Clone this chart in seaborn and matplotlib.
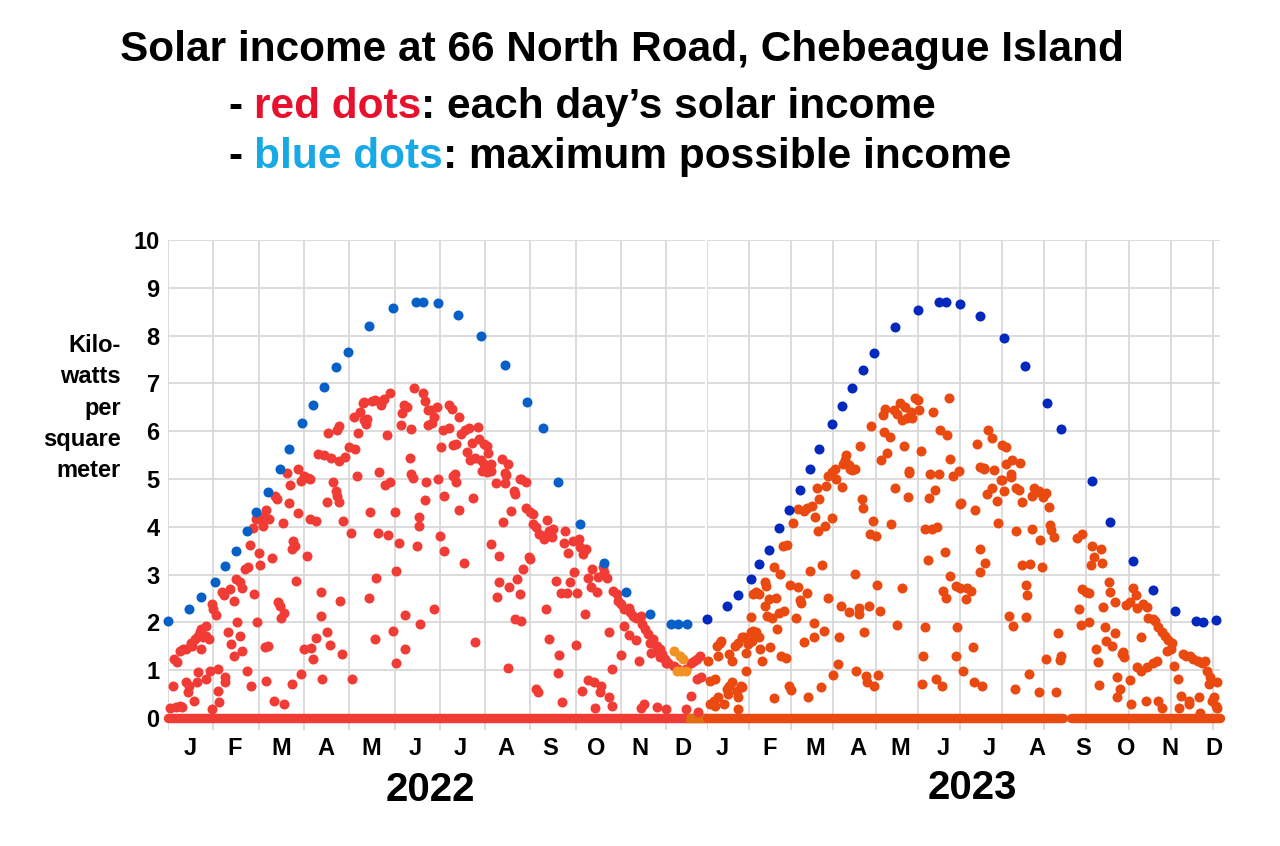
import numpy as np
import pandas as pd
import matplotlib
matplotlib.use("Agg")
import matplotlib.pyplot as plt
import seaborn as sns

sns.set_style("white")
plt.rcParams['font.family'] = ['Liberation Sans', 'DejaVu Sans']
plt.rcParams['text.color'] = 'black'
plt.rcParams['xtick.color'] = 'black'
plt.rcParams['ytick.color'] = 'black'
plt.rcParams['axes.labelcolor'] = 'black'

# ---------------- data ----------------
months = ["J", "F", "M", "A", "M", "J", "J", "A", "S", "O", "N", "D"]
years = ["2022", "2023"]

# maximum possible income (blue dots), day of year / kWh per m2
blue22_day = [0, 14, 22, 31, 38, 45, 52, 58, 66, 74, 80, 89, 96, 103, 111, 119, 133, 149,
              164, 169, 179, 192, 207, 223, 238, 248, 258, 273, 289, 303, 319, 333, 338, 344]
blue22_val = [2.03, 2.28, 2.53, 2.85, 3.18, 3.49, 3.91, 4.31, 4.73, 5.21, 5.63, 6.17, 6.55, 6.92,
              7.34, 7.66, 8.20, 8.58, 8.70, 8.71, 8.68, 8.43, 7.99, 7.38, 6.61, 6.07, 4.93, 4.06,
              3.24, 2.64, 2.18, 1.97, 1.97, 1.97]
blue23_day = [0, 14, 22, 31, 37, 44, 51, 58, 66, 73, 80, 89, 96, 103, 111, 119, 134, 150, 165,
              170, 180, 194, 211, 226, 242, 252, 274, 287, 303, 317, 333, 348, 353, 362]
blue23_val = [2.07, 2.35, 2.58, 2.91, 3.23, 3.51, 3.97, 4.35, 4.77, 5.22, 5.63, 6.15, 6.53, 6.90,
              7.29, 7.64, 8.17, 8.54, 8.70, 8.70, 8.66, 8.41, 7.95, 7.36, 6.59, 6.05, 4.96, 4.11,
              3.28, 2.68, 2.23, 2.02, 2.01, 2.06]

# each day's solar income (red dots), 2022
red22_day = [3, 1, 5, 8, 9, 4, 6, 8, 10, 12, 12, 14, 13, 17, 15, 16, 18, 20, 21, 22, 25, 22, 23, 25,
             27, 20, 19, 25, 28, 29, 34, 33, 33, 29, 30, 32, 36, 37, 41, 44, 38, 38, 40, 42, 44, 46,
             45, 48, 49, 48, 49, 52, 55, 51, 53, 54, 57, 59, 56, 58, 60, 62, 63, 60, 61, 64, 66, 65,
             65, 67, 69, 70, 77, 71, 72, 74, 73, 75, 77, 76, 80, 81, 83, 84, 82, 85, 82, 86, 88, 90,
             93, 94, 88, 90, 92, 94, 98, 95, 96, 98, 102, 101, 101, 105, 107, 105, 109, 111, 112, 113,
             114, 116, 115, 121, 122, 125, 133, 137, 138, 134, 139, 140, 144, 147, 146, 149, 151, 151,
             150, 153, 157, 157, 161, 162, 165, 166, 166, 167, 170, 171,
             79, 86, 99, 103, 108, 113, 117, 120, 124, 106, 112, 113, 123, 126, 127, 129, 130, 130,
             132, 131, 135, 137, 141, 143, 141, 147, 145, 154, 155, 156, 158, 161, 160, 163, 169, 170,
             172, 172,
             174, 176, 175, 178, 186, 188, 193, 182, 186, 181, 189, 191, 194, 197, 199, 205, 201, 206,
             209, 198, 200, 203, 207, 209, 211, 213, 214, 212, 211, 221, 225, 224, 234, 189,
             179, 183, 191, 193, 202, 190, 208, 211, 214, 223, 217, 223, 229, 230, 233, 237, 180, 183,
             196, 176, 203, 214, 219, 222, 227, 219, 218, 226, 231, 233, 235, 239, 240, 230, 234, 225,
             237, 240, 242, 242, 244, 246, 248, 249, 252, 254, 255, 251, 263, 262, 265, 268, 272, 273,
             275, 277, 257, 260, 264, 271, 266, 269, 278, 281, 280, 284, 285, 288, 289, 291, 250, 252,
             259, 258, 276, 270, 244, 245, 261, 274, 278, 282, 286, 287, 283, 292, 294, 294, 292, 300,
             302, 295, 297, 298, 300, 302, 305, 306, 308, 310, 313, 305, 310, 312, 314, 316, 318, 319,
             321, 324, 326, 327, 329, 331, 335, 338, 320, 323, 326, 330, 313, 315, 324, 330, 343, 346,
             348, 350, 352, 350, 353, 346, 343, 351]
red22_val = [0.68, 0.22, 0.24, 0.26, 0.24, 1.23, 1.18, 1.41, 1.44, 1.44, 0.75, 0.68, 0.55, 0.35, 1.58,
             1.51, 1.65, 1.72, 1.79, 1.86, 1.93, 1.44, 1.69, 1.72, 1.65, 0.97, 0.75, 0.82, 0.99, 0.19,
             0.33, 0.57, 1.02, 2.38, 2.28, 2.15, 2.63, 2.57, 2.70, 2.45, 0.75, 0.85, 1.79, 1.55, 1.29,
             2.01, 2.91, 2.84, 2.73, 1.72, 1.41, 0.99, 0.68, 3.11, 3.17, 3.62, 2.59, 2.00, 3.97, 4.16,
             4.17, 4.20, 4.02, 3.46, 3.20, 1.48, 1.51, 0.78, 4.36, 4.16, 3.34, 0.36, 0.29, 4.65, 4.59,
             2.35, 2.43, 2.10, 2.20, 4.09, 4.49, 4.87, 3.71, 3.60, 3.53, 2.87, 0.71, 4.28, 4.96, 5.07,
             5.03, 5.00, 0.92, 1.44, 3.38, 4.16, 4.13, 1.46, 1.23, 1.67, 0.82, 2.63, 2.14, 1.79, 1.53,
             4.51, 4.94, 4.75, 4.65, 4.51, 2.45, 4.13, 1.34, 3.88, 0.82, 5.07, 2.52, 1.65, 2.94, 4.30,
             3.88, 5.15, 4.87, 4.93, 3.83, 1.83, 1.16, 3.08, 4.30, 3.67, 1.44, 2.15, 5.10, 5.03, 3.60,
             4.20, 4.02, 1.97, 4.56, 4.93,
             5.13, 5.20, 5.52, 5.50, 5.44, 5.38, 5.46, 5.67, 5.62, 5.97, 6.02, 6.10, 6.29, 5.97, 6.40,
             6.58, 6.61, 6.23, 6.26, 6.16, 6.63, 6.66, 6.58, 6.68, 6.54, 6.79, 5.92, 6.13, 6.38, 6.54,
             6.51, 6.04, 5.43, 6.91, 6.80, 6.63, 6.44, 6.13,
             6.44, 6.30, 6.17, 6.51, 6.54, 6.47, 6.29, 6.02, 6.06, 5.67, 5.71, 5.74, 5.94, 6.02, 6.06,
             6.08, 5.76, 5.83, 5.74, 5.57, 5.39, 5.43, 5.39, 5.32, 5.24, 5.22, 5.32, 5.55, 5.70, 5.41,
             5.32, 5.08, 5.01, 5.06,
             5.00, 4.65, 4.93, 4.36, 4.61, 5.10, 5.17, 5.14, 5.17, 5.12, 4.91, 4.91, 4.75, 4.68, 5.00,
             4.93, 3.81, 3.50, 3.25, 2.28, 1.60, 3.64, 3.39, 4.10, 4.33, 2.85, 2.54, 2.75, 2.91, 2.59,
             3.11, 3.36, 3.32, 2.08, 2.03, 1.04, 4.40, 4.30, 4.26, 4.06, 3.99, 3.85, 3.81, 3.74, 3.92,
             3.78, 3.95, 4.15, 3.92, 3.66, 3.46, 3.71, 3.74, 3.57, 3.43, 3.53, 2.87, 2.61, 2.61, 2.61,
             2.84, 3.05, 2.94, 3.11, 2.75, 2.63, 2.96, 3.15, 3.05, 2.92, 2.28, 1.65, 1.32, 0.95, 2.17,
             1.53, 0.61, 0.55, 0.34, 0.57, 0.80, 0.75, 0.55, 0.68, 0.22, 1.80, 1.02, 0.26, 0.43, 1.32,
             1.93, 2.66, 2.59, 2.45, 2.38, 2.28, 2.31, 2.21, 2.14, 2.10, 2.14, 1.74, 1.64, 1.20, 1.97,
             1.86, 1.76, 1.58, 1.65, 1.51, 1.44, 1.34, 1.23, 1.16, 1.09, 1.02, 1.37, 1.41, 1.27, 1.16,
             0.20, 0.29, 0.24, 0.19, 1.02, 1.16, 1.20, 1.23, 1.30, 0.82, 0.85, 0.47, 0.19, 0.12]

# overlapping December dots of the 2022 screenshot (orange)
ovl22_day = [335, 339, 341, 337, 340, 343]
ovl22_val = [1.41, 1.30, 1.23, 0.98, 0.98, 0.98]

# each day's solar income, 2023
red23_day = [2, 5, 6, 8, 12, 2, 6, 1, 8, 7, 9, 10, 14, 16, 15, 18, 21, 22, 24, 25, 16, 18, 20, 22,
             25, 26, 28, 29, 31, 32, 33, 35, 37, 28, 22, 31, 33, 35, 37, 41, 42, 41, 44, 43, 46, 39,
             38, 45, 48, 48, 52, 49, 51, 55, 50, 53, 56, 54, 57, 61, 58, 60, 59, 65, 63, 66, 67, 71,
             65, 69, 71, 75, 73, 69, 72, 77, 79, 76, 76, 78, 80, 85, 86, 89, 91, 82, 83, 84, 86, 89,
             92, 96, 94, 90, 93, 81, 95, 101, 105, 108, 108, 102, 105, 110, 111, 118, 116, 120, 115,
             121, 123, 112, 106, 113, 114, 119, 122, 131, 135, 134, 143, 144, 139, 155, 154, 153, 155,
             160, 164, 157, 159, 165, 158, 162, 163, 167, 168, 170, 169, 173, 177, 180, 185, 188, 184,
             175, 179, 181, 191, 178, 177, 182, 189, 190, 194, 194,
             98, 101, 103, 99, 97, 109, 117, 124, 128, 126, 130, 125, 127, 133, 137, 135, 139, 141,
             142, 145, 146, 148, 150, 151, 140, 144, 152, 161, 166, 171, 172, 173, 192, 194,
             200, 203, 210, 213, 197, 204, 213, 217, 223, 216, 209,
             180, 196, 198, 199, 203, 206, 210, 211, 216, 220, 222, 197, 207, 220, 224, 231, 231, 233,
             234, 236, 239, 241, 243, 237, 244, 245, 247, 224, 230, 238, 227, 228, 215, 218, 227, 229,
             219, 236, 248, 250, 241, 251, 252, 263, 267, 274, 280, 275, 273, 281, 267, 270, 272, 265,
             266, 272, 286, 287, 290, 282, 283, 284, 290, 288, 277, 278, 296, 295, 297, 292, 294, 292,
             279, 301, 302, 298, 301, 303, 305, 306, 310, 313, 314, 317, 319, 321, 324, 326, 328, 331,
             327, 330, 309, 306, 309, 313, 317, 320, 312, 321, 324, 332, 335, 337, 339, 341, 344, 346,
             349, 352, 354, 356, 357, 358, 359, 361, 363, 362, 363, 336, 343, 343, 350, 351]
red23_val = [0.29, 0.36, 0.26, 0.43, 0.29, 0.78, 0.82, 1.20, 1.30, 1.51, 1.58, 1.62, 0.61, 0.68, 0.50,
             0.75, 0.57, 0.43, 0.68, 0.64, 1.34, 1.20, 1.51, 1.58, 1.69, 1.69, 1.37, 1.55, 1.79, 1.62,
             1.83, 1.79, 1.69, 0.99, 0.19, 2.12, 2.59, 2.63, 2.59, 2.84, 2.77, 2.35, 2.49, 2.14, 2.10,
             1.20, 1.44, 1.49, 0.41, 3.15, 3.01, 2.51, 2.20, 2.23, 1.86, 1.30, 1.25, 3.60, 3.62, 4.07,
             0.68, 0.59, 2.79, 2.75, 2.10, 2.47, 2.40, 2.61, 4.37, 4.33, 4.39, 4.44, 3.08, 1.60, 0.43,
             4.20, 3.92, 1.98, 1.70, 4.81, 4.59, 4.86, 5.07, 5.14, 5.20, 3.21, 1.83, 4.02, 2.51, 4.18,
             5.01, 4.84, 1.69, 0.91, 1.14, 0.64, 2.35, 2.21, 3.01, 2.31, 2.17, 5.20, 5.20, 4.58, 4.40,
             4.13, 3.86, 3.81, 2.35, 2.79, 2.24, 1.79, 0.99, 0.89, 0.75, 0.68, 0.91, 4.06, 1.95, 4.82,
             4.63, 5.16, 2.73, 1.91, 1.30, 0.71, 3.95, 3.95, 3.99, 3.30, 5.10, 5.11, 4.61, 4.77, 0.82,
             0.66, 2.66, 2.51, 3.48, 2.98, 2.77, 2.72, 2.72, 2.66, 2.49, 5.07, 5.17, 4.49, 4.35, 1.91,
             1.30, 0.99, 1.48, 0.75, 3.53, 3.05,
             5.39, 5.29, 5.18, 5.50, 5.32, 5.69, 6.10, 5.39, 5.55, 5.99, 5.87, 6.33, 6.47, 6.44, 6.59,
             6.37, 6.24, 6.51, 6.27, 6.41, 6.27, 6.70, 6.65, 6.44, 5.69, 5.13, 5.59, 6.40, 6.03, 5.92,
             6.70, 5.41, 5.74, 5.25,
             6.03, 5.85, 5.71, 5.67, 5.22, 5.18, 5.32, 5.39, 5.34, 5.05, 4.99,
             4.47, 0.68, 3.25, 4.68, 4.81, 4.54, 4.98, 4.75, 5.11, 4.82, 4.77, 5.24, 4.09, 3.92, 4.51,
             3.95, 4.65, 4.82, 4.72, 4.75, 4.63, 4.70, 4.42, 3.72, 4.04, 3.93, 3.78, 3.21, 3.23, 3.15,
             2.79, 2.58, 2.14, 1.93, 2.12, 0.92, 0.61, 0.54, 0.54, 1.77, 1.23, 1.21, 1.30, 3.76, 3.85,
             3.59, 3.53, 3.37, 3.20, 3.25, 2.70, 2.63, 2.61, 2.28, 1.95, 2.00, 2.84, 2.63, 2.42, 2.33,
             1.90, 1.62, 1.78, 1.51, 1.44, 1.18, 1.39, 1.34, 1.28, 0.86, 0.61, 0.43, 0.70, 0.79, 0.29,
             2.37, 2.42, 2.72, 2.58, 2.31, 2.38, 2.33, 2.10, 2.07, 2.02, 1.90, 1.79, 1.72, 1.63, 1.58,
             1.41, 1.44, 1.70, 1.06, 0.98, 1.06, 1.16, 1.20, 0.36, 0.36, 0.21, 1.09, 0.81, 0.47, 1.34,
             1.30, 1.30, 1.23, 1.20, 1.16, 1.20, 0.98, 0.71, 0.85, 0.36, 0.43, 0.75, 0.26, 0.22, 0.21,
             0.36, 0.29, 0.43, 0.10]

# runs of days with zero income (drawn as the thick band at 0)
zero22_spans = [(0, 356)]
zero23_spans = [(0, 253), (259, 365)]
ovl22_zero = [(343, 356)]

# ---------------- style ----------------
W, H = 1280, 846
RED22 = "#f03c34"
RED23 = "#ea4a10"
OVL = "#f29222"
BLUE22 = "#0660c8"
BLUE23 = "#0228bd"
GRID = "#d9d9d9"
DOT = 52

fig = plt.figure(figsize=(W / 100, H / 100), dpi=100)
fig.patch.set_facecolor("white")

ax_top, ax_bot = 240, 730
axL = fig.add_axes([168 / W, 1 - ax_bot / H, (705 - 168) / W, (ax_bot - ax_top) / H])
axR = fig.add_axes([707 / W, 1 - ax_bot / H, (1220 - 707) / W, (ax_bot - ax_top) / H])

left_month_pos = [14.6, 44.4, 74.8, 104.6, 134.4, 163.6, 193.4, 223.8, 253, 283.4, 312.6, 341]
right_month_pos = [10.7, 44.8, 76.9, 107.5, 137.4, 168, 201, 235, 267.6, 298, 329.5, 360.8]


def setup(ax, xmax, month_pos, show_y):
    ax.set_xlim(0, xmax)
    ax.set_ylim(-0.25, 10)
    for s in ax.spines.values():
        s.set_visible(False)
    ax.set_yticks(range(0, 11))
    ax.set_xticks(np.arange(0, xmax, 30), minor=True)
    ax.set_xticks(month_pos)
    ax.set_xticklabels(months, fontsize=17, fontweight="bold", color="black")
    ax.xaxis.grid(True, which="minor", color=GRID, lw=1.3)
    ax.xaxis.grid(False, which="major")
    ax.yaxis.grid(True, which="major", color=GRID, lw=1.3)
    ax.tick_params(axis="x", which="both", length=0, pad=5, colors="black")
    ax.tick_params(axis="y", length=0, pad=6, labelsize=17, labelleft=show_y, colors="black")
    if show_y:
        for lab in ax.get_yticklabels():
            lab.set_fontweight("bold")
    ax.set_axisbelow(True)
    ax.set_facecolor("white")


setup(axL, 355.6, left_month_pos, True)
setup(axR, 365, right_month_pos, False)

for a, b in zero22_spans:
    axL.plot([a, b], [0, 0], color=RED22, lw=6.8, solid_capstyle="round", clip_on=False, zorder=2)
for a, b in ovl22_zero:
    axL.plot([a, b], [0, 0], color="#e0700f", lw=6.8, solid_capstyle="butt", clip_on=False, zorder=2)
for a, b in zero23_spans:
    axR.plot([a, b], [0, 0], color=RED23, lw=6.8, solid_capstyle="round", clip_on=False, zorder=2)

d22 = pd.DataFrame({"day": red22_day, "kwh": red22_val})
d23 = pd.DataFrame({"day": red23_day, "kwh": red23_val})
b22 = pd.DataFrame({"day": blue22_day, "kwh": blue22_val})
b23 = pd.DataFrame({"day": blue23_day, "kwh": blue23_val})
o22 = pd.DataFrame({"day": ovl22_day, "kwh": ovl22_val})

kw = dict(s=DOT, linewidth=0, clip_on=False, zorder=3, legend=False)
sns.scatterplot(data=d22, x="day", y="kwh", color=RED22, ax=axL, **kw)
sns.scatterplot(data=o22, x="day", y="kwh", color=OVL, ax=axL, **kw)
sns.scatterplot(data=b22, x="day", y="kwh", color=BLUE22, ax=axL, **kw)
sns.scatterplot(data=d23, x="day", y="kwh", color=RED23, ax=axR, **kw)
sns.scatterplot(data=b23, x="day", y="kwh", color=BLUE23, ax=axR, **kw)
for ax in (axL, axR):
    ax.set_xlabel("")
    ax.set_ylabel("")

# year labels
fig.text(430 / W, 1 - 790 / H, years[0], ha="center", va="center", fontsize=29,
         fontweight="bold", color="black")
fig.text(972 / W, 1 - 788 / H, years[1], ha="center", va="center", fontsize=29,
         fontweight="bold", color="black")

# y-axis label
fig.text(121 / W, 1 - 408 / H, "Kilo-\nwatts\nper\nsquare\nmeter", ha="right", va="center",
         fontsize=17, fontweight="bold", linespacing=1.45, color="black")

# title block
TS = 30.5
fig.text(622 / W, 1 - 61 / H, "Solar income at 66 North Road, Chebeague Island", ha="center",
         va="baseline", fontsize=TS, fontweight="bold", color="black")

renderer = fig.canvas.get_renderer()


def width_of(s):
    t = fig.text(0, 0, s, fontsize=TS, fontweight="bold")
    w = t.get_window_extent(renderer=renderer).width
    t.remove()
    return w


def colored_line(x0, ybase, prefix, word, wcol, rest):
    full = prefix + word + rest
    x_word = x0 + width_of(prefix + word) - width_of(word)
    x_rest = x0 + width_of(full) - width_of(rest)
    for s, x, c in ((prefix.strip(), x0, "black"), (word, x_word, wcol), (rest, x_rest, "black")):
        fig.text(x / W, 1 - ybase / H, s, ha="left", va="baseline", fontsize=TS,
                 fontweight="bold", color=c)


colored_line(228, 118, "- ", "red dots", "#e8112d", ": each day\u2019s solar income")
colored_line(228, 168, "- ", "blue dots", "#17a9e6", ": maximum possible income")

fig.savefig("out.png", dpi=100, facecolor="white")
